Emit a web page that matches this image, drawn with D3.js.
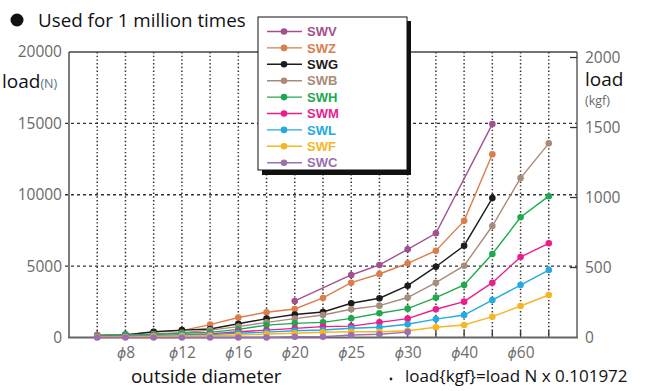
<!DOCTYPE html>
<html><head><meta charset="utf-8">
<script src="https://cdn.jsdelivr.net/npm/d3@7/dist/d3.min.js"></script>
<style>
html,body{margin:0;padding:0;background:#fff;}
svg{display:block;}
</style></head>
<body><svg id="c" width="650" height="391"></svg>
<script>
const categories = ["φ6","φ8","φ10","φ12","φ14","φ16","φ18","φ20","φ22","φ25","φ27","φ30","φ35","φ40","φ50","φ60","φ70"];
const tickLabels = ["φ8","φ12","φ16","φ20","φ25","φ30","φ40","φ60"];
const leftTicks = [0,5000,10000,15000,20000];
const rightTicks = [0,500,1000,1500,2000];
const gridValues = [5000,10000,15000];
const seriesNames = ["SWV","SWZ","SWG","SWB","SWH","SWM","SWL","SWF","SWC"];
const seriesColors = ["#a3508f","#da7e4c","#1c1c1c","#a98b7a","#1fa94e","#ea1e8b","#22aae2","#f6b624","#9c6fb1"];
const SWV = [null,null,null,null,null,null,null,2560,null,4380,5080,6180,7300,null,14950,null,null];
const SWZ = [170,200,380,480,900,1400,1770,2000,2770,3840,4450,5200,6080,8170,12840,null,null];
const SWG = [120,180,400,520,600,960,1320,1610,1790,2400,2750,3630,4960,6430,9770,null,null];
const SWB = [180,150,250,330,520,760,1060,1320,1580,1980,2230,2800,3840,5030,7810,11170,13600];
const SWH = [100,220,200,300,360,570,870,990,1060,1340,1700,2020,2790,3680,5850,8420,9900];
const SWM = [60,80,120,180,250,400,520,640,760,800,1060,1320,1980,2510,3840,5640,6600];
const SWL = [40,60,100,175,200,300,380,476,525,644,714,924,1290,1576,2626,3676,4727];
const SWF = [30,40,70,100,120,180,240,294,364,406,406,476,714,875,1457,2206,2976];
const SWC = [0,0,0,0,0,0,0,56,56,175,224,380,null,null,null,null,null];
const seriesValues = [SWV,SWZ,SWG,SWB,SWH,SWM,SWL,SWF,SWC];
const KGF = 0.101972;

const svg = d3.select("#c");
const L = 69, R = 577, T = 52, B = 337.5;
const x = d3.scalePoint().domain(categories).range([L, R]).padding(1);
const y = d3.scaleLinear().domain([0,20000]).range([B, T]);
const yR = d3.scaleLinear().domain([0,20000*KGF]).range([B, T]);
const FONT = "'Open Sans', 'Noto Sans', sans-serif";

// title
svg.append("circle").attr("cx",17).attr("cy",20).attr("r",6.5).attr("fill","#111");
svg.append("text").attr("x",38).attr("y",27).attr("font-family",FONT).attr("font-size",18.8)
  .attr("fill","#111").text("Used for 1 million times");

// vertical grid
const gv = svg.append("g");
categories.forEach(c => {
  gv.append("line").attr("x1",x(c)).attr("x2",x(c)).attr("y1",T).attr("y2",B)
    .attr("stroke","#333").attr("stroke-width",1.5).attr("stroke-dasharray","1.4,2.3");
  gv.append("line").attr("x1",x(c)).attr("x2",x(c)).attr("y1",B-7).attr("y2",B)
    .attr("stroke","#333").attr("stroke-width",1.3);
});
// horizontal grid
gridValues.forEach(v => {
  svg.append("line").attr("x1",L-4).attr("x2",R).attr("y1",y(v)).attr("y2",y(v))
    .attr("stroke","#333").attr("stroke-width",1.3).attr("stroke-dasharray","3,3");
});
// frame
svg.append("line").attr("x1",L).attr("x2",R).attr("y1",T).attr("y2",T).attr("stroke","#444").attr("stroke-width",1.3);
svg.append("line").attr("x1",L).attr("x2",L).attr("y1",T).attr("y2",B).attr("stroke","#444").attr("stroke-width",1.4);
svg.append("line").attr("x1",R).attr("x2",R).attr("y1",T).attr("y2",B).attr("stroke","#555").attr("stroke-width",1.4);
svg.append("line").attr("x1",L-1).attr("x2",R+1).attr("y1",B).attr("y2",B).attr("stroke","#666").attr("stroke-width",2.2);
// right ticks
rightTicks.slice(1).forEach(v => {
  svg.append("line").attr("x1",R-7).attr("x2",R).attr("y1",yR(v)).attr("y2",yR(v)).attr("stroke","#333").attr("stroke-width",1.3);
});

// axes labels
const ax = svg.append("g").attr("transform",`translate(${L},0)`)
  .call(d3.axisLeft(y).tickValues(leftTicks).tickFormat(d3.format("d")).tickSize(0).tickPadding(7));
ax.select(".domain").remove();
ax.selectAll("text").attr("font-family",FONT).attr("font-size",15.5).attr("fill","#6a6a6a");

const axr = svg.append("g").attr("transform",`translate(${R},0)`)
  .call(d3.axisRight(yR).tickValues(rightTicks).tickFormat(d3.format("d")).tickSize(0).tickPadding(8));
axr.select(".domain").remove();
axr.selectAll("text").attr("font-family",FONT).attr("font-size",15.5).attr("fill","#6a6a6a");

const axb = svg.append("g").attr("transform",`translate(0,${B})`)
  .call(d3.axisBottom(x).tickValues(tickLabels).tickSize(0).tickPadding(9));
axb.select(".domain").remove();
axb.selectAll("text").attr("font-family",FONT).attr("font-size",15.5).attr("fill","#6e6e6e")
  .each(function(d){
    const t = d3.select(this); t.text(null);
    t.append("tspan").attr("font-style","italic").attr("font-family","'DejaVu Sans', sans-serif").attr("font-size",14).text("ϕ");
    t.append("tspan").text(d.slice(1));
  });

// axis titles
const lt = svg.append("text").attr("x",2).attr("y",88).attr("font-family",FONT).attr("font-size",19).attr("fill","#111");
lt.append("tspan").text("load");
lt.append("tspan").attr("font-size",12.5).attr("fill","#5b6f82").text("(N)");
svg.append("text").attr("x",585).attr("y",86).attr("font-family",FONT).attr("font-size",19).attr("fill","#111").text("load");
svg.append("text").attr("x",585).attr("y",105).attr("font-family",FONT).attr("font-size",12.5).attr("fill","#6a6a6a").text("(kgf)");
svg.append("text").attr("x",131).attr("y",383).attr("font-family",FONT).attr("font-size",18.9).attr("fill","#111").text("outside diameter");
svg.append("circle").attr("cx",391).attr("cy",379).attr("r",1.4).attr("fill","#222");
svg.append("text").attr("x",405).attr("y",382).attr("font-family",FONT).attr("font-size",17).attr("fill","#111").text("load{kgf}=load N x 0.101972");

// series
const line = d3.line().x(d => x(d.c)).y(d => y(d.v));
seriesValues.forEach((vals, si) => {
  const pts = vals.map((v,i) => ({c: categories[i], v})).filter(d => d.v !== null);
  const g = svg.append("g");
  g.append("path").attr("d", line(pts)).attr("fill","none").attr("stroke",seriesColors[si]).attr("stroke-width",1.4);
  g.selectAll("circle").data(pts).join("circle").attr("cx",d=>x(d.c)).attr("cy",d=>y(d.v)).attr("r",3.3).attr("fill",seriesColors[si]);
});

// legend
const lg = svg.append("g");
lg.append("rect").attr("x",262).attr("y",21).attr("width",149).attr("height",154).attr("fill","#111");
lg.append("rect").attr("x",258).attr("y",17).attr("width",149).attr("height",153).attr("fill","#fff").attr("stroke","#111").attr("stroke-width",1);
seriesNames.forEach((n,i) => {
  const yy = 31.5 + i*16.4;
  lg.append("line").attr("x1",267).attr("x2",302).attr("y1",yy).attr("y2",yy).attr("stroke",seriesColors[i]).attr("stroke-width",1.4);
  lg.append("circle").attr("cx",284).attr("cy",yy).attr("r",3.3).attr("fill",seriesColors[i]);
  lg.append("text").attr("x",307).attr("y",yy).attr("dy","0.36em").attr("font-family","'Liberation Sans', Arial, sans-serif")
    .attr("font-weight","bold").attr("font-size",13).attr("fill",seriesColors[i]).text(n);
});
</script></body></html>
